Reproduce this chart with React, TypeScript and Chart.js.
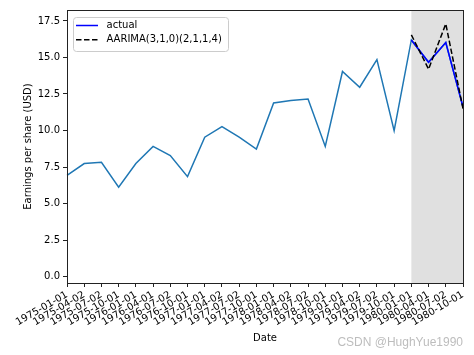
import React, { useEffect, useRef } from 'react';
import { Chart, registerables } from 'chart.js';
Chart.register(...registerables);

const dates = [
  '1975-01-01', '1975-04-02', '1975-07-02', '1975-10-01',
  '1976-01-01', '1976-04-01', '1976-07-02', '1976-10-01',
  '1977-01-01', '1977-04-02', '1977-07-02', '1977-10-01',
  '1978-01-01', '1978-04-02', '1978-07-02', '1978-10-01',
  '1979-01-01', '1979-04-02', '1979-07-02', '1979-10-01',
  '1980-01-01', '1980-04-01', '1980-07-02', '1980-10-01',
];
const actual = [
  6.93, 7.74, 7.83, 6.12,
  7.74, 8.91, 8.28, 6.84,
  9.54, 10.26, 9.54, 8.73,
  11.88, 12.06, 12.15, 8.91,
  14.04, 12.96, 14.85, 9.99,
  16.2, 14.67, 16.02, 11.61,
];
const testStart = 20;
const forecast = [16.55, 14.2, 17.3, 11.5];
const yMin = -0.44;
const yMax = 18.25;
const yStep = 2.5;
const legendLabels = ['actual', 'AARIMA(3,1,0)(2,1,1,4)'];
const xTitle = 'Date';
const yTitle = 'Earnings per share (USD)';
const watermark = 'CSDN @HughYue1990';

const FONT = 'DejaVu Sans';

const testSeries = dates.map((_, i) => (i >= testStart ? actual[i] : null));
const forecastSeries = dates.map((_, i) => (i >= testStart ? forecast[i - testStart] : null));

const decorPlugin = {
  id: 'decor',
  beforeDatasetsDraw(chart: any) {
    const { ctx, chartArea, scales } = chart;
    const x1 = scales.x.getPixelForValue(testStart);
    ctx.save();
    ctx.fillStyle = '#e0e0e0';
    ctx.fillRect(x1, chartArea.top, chartArea.right - x1, chartArea.bottom - chartArea.top);
    ctx.restore();
  },
  afterDraw(chart: any) {
    const { ctx, chartArea } = chart;
    ctx.save();
    // frame
    ctx.strokeStyle = '#222';
    ctx.lineWidth = 1;
    ctx.strokeRect(
      Math.round(chartArea.left) + 0.5,
      Math.round(chartArea.top) + 0.5,
      Math.round(chartArea.right - chartArea.left),
      Math.round(chartArea.bottom - chartArea.top)
    );
    // legend
    const lx = chartArea.left + 6;
    const ly = chartArea.top + 7;
    const lw = 155;
    const lh = 34;
    ctx.fillStyle = 'rgba(255,255,255,0.85)';
    ctx.strokeStyle = '#cccccc';
    ctx.beginPath();
    (ctx as any).roundRect(lx + 0.5, ly + 0.5, lw, lh, 3);
    ctx.fill();
    ctx.stroke();
    const rows = [
      { color: '#0000ff', dash: [] as number[], text: legendLabels[0] },
      { color: '#000000', dash: [5.5, 2.5], text: legendLabels[1] },
    ];
    ctx.font = `10px "${FONT}"`;
    ctx.textBaseline = 'middle';
    ctx.textAlign = 'left';
    rows.forEach((r, i) => {
      const y = ly + 8.5 + i * 14.3;
      ctx.strokeStyle = r.color;
      ctx.lineWidth = 1.5;
      ctx.setLineDash(r.dash);
      ctx.beginPath();
      ctx.moveTo(lx + 3, y);
      ctx.lineTo(lx + 25, y);
      ctx.stroke();
      ctx.setLineDash([]);
      ctx.fillStyle = '#000';
      ctx.fillText(r.text, lx + 33.5, y);
    });
    // watermark
    ctx.font = '12px "Liberation Sans"';
    ctx.fillStyle = '#bdbdbd';
    ctx.textAlign = 'right';
    ctx.textBaseline = 'middle';
    ctx.fillText(watermark, 463, 343);
    ctx.restore();
  },
};

export default function App() {
  const ref = useRef<HTMLCanvasElement>(null);
  useEffect(() => {
    if (!ref.current) return;
    const chart = new Chart(ref.current, {
      type: 'line',
      data: {
        labels: dates,
        datasets: [
          {
            label: 'forecast',
            data: forecastSeries,
            borderColor: '#000000',
            borderDash: [5.5, 2.5],
            borderWidth: 1.5,
            pointRadius: 0,
            fill: false,
            tension: 0,
            order: 0,
          },
          {
            label: 'test',
            data: testSeries,
            borderColor: '#0000ff',
            borderWidth: 1.5,
            pointRadius: 0,
            fill: false,
            tension: 0,
            order: 1,
          },
          {
            label: 'train',
            data: actual,
            borderColor: '#1f77b4',
            borderWidth: 1.5,
            pointRadius: 0,
            fill: false,
            tension: 0,
            order: 2,
          },
        ],
      },
      options: {
        animation: false,
        responsive: false,
        devicePixelRatio: 1,
        layout: { padding: { left: 0, top: 10, right: 11, bottom: 0 } },
        plugins: {
          legend: { display: false },
          tooltip: { enabled: false },
        },
        scales: {
          x: {
            type: 'category',
            offset: false,
            grid: {
              display: true,
              drawOnChartArea: false,
              drawTicks: true,
              tickLength: 4,
              color: '#222',
            },
            border: { display: true, color: '#222' },
            ticks: {
              autoSkip: false,
              maxRotation: 30,
              minRotation: 30,
              padding: 2,
              color: '#000',
              font: { family: FONT, size: 10 },
            },
            title: {
              display: true,
              text: xTitle,
              color: '#000',
              font: { family: FONT, size: 10 },
              padding: { top: 0, bottom: 11 },
            },
            afterFit(scale: any) {
              scale.height = 72;
            },
          },
          y: {
            type: 'linear',
            min: yMin,
            max: yMax,
            grid: {
              display: true,
              drawOnChartArea: false,
              drawTicks: true,
              tickLength: 4,
              color: '#222',
            },
            border: { display: true, color: '#222' },
            ticks: {
              stepSize: yStep,
              includeBounds: false,
              padding: 3,
              color: '#000',
              font: { family: FONT, size: 10 },
              callback: (v: any) => Number(v).toFixed(1),
            },
            title: {
              display: true,
              text: yTitle,
              color: '#000',
              font: { family: FONT, size: 10 },
              padding: { top: 22, bottom: 0 },
            },
            afterFit(scale: any) {
              scale.width = 67;
            },
          },
        },
      },
      plugins: [decorPlugin],
    } as any);
    return () => chart.destroy();
  }, []);
  return (
    <div style={{ position: 'fixed', left: 0, top: 0, width: 474, height: 355 }}>
      <canvas ref={ref} width={474} height={355} style={{ width: 474, height: 355 }} />
    </div>
  );
}
